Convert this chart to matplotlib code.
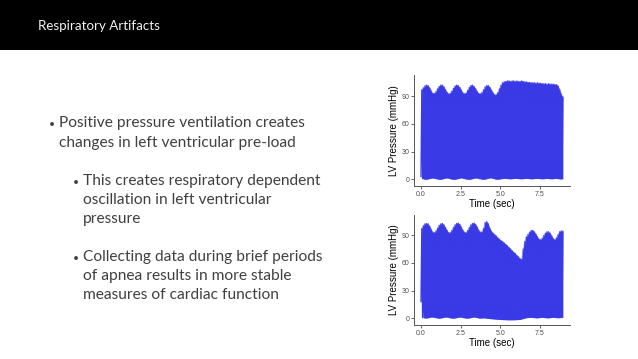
"""
Slide: respiratory artifacts in LV pressure traces.
"""
import matplotlib
matplotlib.use('Agg')
import matplotlib.pyplot as plt
import matplotlib.patches as mpatches
import numpy as np

# ── Data ──────────────────────────────────────────────────────────────────────
# beat times (sec) and per-beat systolic peak / diastolic floor (mmHg),
# read off the two traces
beat_t = [0.05, 0.15, 0.25, 0.35, 0.45, 0.55, 0.65, 0.75, 0.85, 0.95,
          1.05, 1.15, 1.25, 1.35, 1.45, 1.55, 1.65, 1.75, 1.85, 1.95,
          2.05, 2.15, 2.25, 2.35, 2.45, 2.55, 2.65, 2.75, 2.85, 2.95,
          3.05, 3.15, 3.25, 3.35, 3.45, 3.55, 3.65, 3.75, 3.85, 3.95,
          4.05, 4.15, 4.25, 4.35, 4.45, 4.55, 4.65, 4.75, 4.85, 4.95,
          5.05, 5.15, 5.25, 5.35, 5.45, 5.55, 5.65, 5.75, 5.85, 5.95,
          6.05, 6.15, 6.25, 6.35, 6.45, 6.55, 6.65, 6.75, 6.85, 6.95,
          7.05, 7.15, 7.25, 7.35, 7.45, 7.55, 7.65, 7.75, 7.85, 7.95,
          8.05, 8.15, 8.25, 8.35, 8.45, 8.55, 8.65, 8.75, 8.85, 8.95]

# ventilated trace (top)
peak_top = [97, 99, 101, 102, 101.5, 99, 95.5, 93, 93, 95,
            98, 100.5, 102, 102, 100, 97, 94, 92.5, 93, 95.5,
            98.5, 101, 102, 101.5, 99.5, 96.5, 93.5, 92.5, 93.5, 96.5,
            99.5, 101.5, 102, 100.5, 98, 95, 93, 92.5, 94, 97,
            100, 101.5, 101.5, 99.5, 96.5, 93.5, 91.5, 91.5, 94, 98,
            102, 104.5, 105.5, 106, 106.5, 106.5, 106, 106.5, 106.5, 106,
            106.5, 106, 106, 106.5, 106, 105.5, 105.5, 105, 105, 104.5,
            104.5, 104.5, 104, 104.5, 104, 104, 103.5, 103.5, 103.5, 103,
            103.5, 103, 103, 103, 102.5, 102.5, 101, 97, 92, 89]
dia_top = [3, 0.5, 0.2, 0.0, 0.3, 0.8, 1.2, 1.5, 1.2, 0.8,
           0.4, 0.1, 0.0, 0.3, 0.8, 1.3, 1.5, 1.2, 0.7, 0.3,
           0.1, 0.0, 0.3, 0.8, 1.2, 1.5, 1.3, 0.8, 0.4, 0.1,
           0.0, 0.2, 0.6, 1.1, 1.4, 1.4, 1.0, 0.5, 0.2, 0.0,
           0.2, 0.6, 1.1, 1.5, 1.5, 1.1, 0.6, 0.2, 0.0, 0.2,
           0.5, 0.8, 1.0, 1.0, 0.8, 0.6, 0.5, 0.6, 0.8, 1.0,
           1.0, 0.8, 0.6, 0.5, 0.6, 0.8, 1.0, 0.9, 0.7, 0.5,
           0.5, 0.7, 0.9, 1.0, 0.8, 0.6, 0.5, 0.6, 0.8, 0.9,
           0.8, 0.6, 0.5, 0.6, 0.8, 0.9, 0.7, 0.5, 0.4, 0.5]

# apnea trace (bottom)
peak_bot = [97, 100, 102, 102.5, 102, 99.5, 96, 93, 92.5, 94.5,
            97.5, 100.5, 102, 102.5, 101, 98, 95, 92.5, 92.5, 95,
            98, 101, 102.5, 103, 101.5, 98.5, 95, 93, 92.5, 95,
            98, 101, 102.5, 103, 101.5, 98.5, 95, 93, 93.5, 97,
            103.5, 104.5, 102, 97, 94, 92, 90.5, 89, 87, 85.5,
            84, 83, 81.5, 80, 78.5, 76.5, 75, 73, 71.5, 70,
            68, 66.5, 64.5, 63.5, 75, 83, 88, 90.5, 93, 95,
            95, 93.5, 91, 88, 85.5, 85, 86.5, 89.5, 92, 93.5,
            93.5, 92, 89, 86, 85, 87, 90.5, 93.5, 94.5, 94]
dia_bot = [18, 0.8, 0.5, 0.3, 0.6, 1.0, 1.4, 1.5, 1.2, 0.8,
           0.4, 0.2, 0.3, 0.7, 1.1, 1.5, 1.4, 1.0, 0.6, 0.3,
           0.2, 0.3, 0.7, 1.1, 1.5, 1.4, 1.0, 0.6, 0.3, 0.2,
           0.4, 0.8, 1.2, 1.5, 1.3, 0.9, 0.5, 0.3, 0.3, 0.6,
           0.5, 0.2, 0.0, -0.2, -0.4, -0.5, -0.7, -0.8, -1.0, -1.1,
           -1.2, -1.3, -1.4, -1.5, -1.5, -1.6, -1.6, -1.5, -1.6, -1.5,
           -1.4, -1.3, -1.2, -0.8, -0.2, 0.3, 0.6, 0.9, 1.0, 1.1,
           1.0, 0.8, 0.6, 0.5, 0.7, 1.0, 1.2, 1.0, 0.8, 0.6,
           0.5, 0.7, 1.0, 1.2, 1.0, 0.8, 0.6, 0.7, 1.0, 1.2]

x_ticks = [0.0, 2.5, 5.0, 7.5]
y_ticks = [0, 30, 60, 90]

title = 'Respiratory Artifacts'
bullets = [
    # (indent level, lines)
    (0, ['Positive pressure ventilation creates',
         'changes in left ventricular pre-load']),
    (1, ['This creates respiratory dependent',
         'oscillation in left ventricular',
         'pressure']),
    (1, ['Collecting data during brief periods',
         'of apnea results in more stable',
         'measures of cardiac function']),
]

# ── Figure ────────────────────────────────────────────────────────────────────
W, H = 638, 359
fig = plt.figure(figsize=(W / 100, H / 100), dpi=100)
fig.patch.set_facecolor('white')

slide_font = ['Lato', 'Open Sans', 'DejaVu Sans']
plot_font = ['Liberation Sans', 'DejaVu Sans']

# title bar
fig.add_artist(mpatches.Rectangle((0, 1 - 50 / H), 1, 50 / H,
                                  transform=fig.transFigure,
                                  facecolor='black', edgecolor='none'))
fig.text(38 / W, 1 - 29.5 / H, title, fontsize=9.6, color='#F2F2F2',
         family=slide_font, va='baseline', ha='left')

# bullet text (baselines in px from top)
baselines = [[126.7, 146.7], [185, 204, 222.7], [261, 280, 299]]
for (lvl, lines), bl in zip(bullets, baselines):
    bx, tx = (49, 59) if lvl == 0 else (73, 83)
    fig.text(bx / W, 1 - bl[0] / H, '•', fontsize=7.5, color='#404040',
             family=slide_font, va='baseline', ha='left')
    for line, y in zip(lines, bl):
        fig.text(tx / W, 1 - y / H, line, fontsize=11.2, color='#404040',
                 family=slide_font, va='baseline', ha='left')


# ── LV pressure panels ────────────────────────────────────────────────────────
def lv_panel(rect, peaks, dias, ylim):
    ax = fig.add_axes(rect)
    t = np.array(beat_t)
    # solid band between diastolic floor and systolic peak
    ax.fill_between(t, dias, peaks, color='#3636E3', lw=0, zorder=2)
    # beat-by-beat zig-zag on top for the striated look
    xs = np.empty(2 * len(t))
    ys = np.empty(2 * len(t))
    xs[0::2] = t - 0.05
    xs[1::2] = t
    ys[0::2] = dias
    ys[1::2] = peaks
    ax.plot(xs, ys, color='#3A3AE6', lw=0.9, zorder=3)
    ax.plot(t, peaks, color='#6565EA', lw=0.6, alpha=0.5, zorder=4)
    ax.set_xlim(-0.42, 9.4)
    ax.set_ylim(*ylim)
    ax.set_xticks(x_ticks)
    ax.set_xticklabels([f'{v:.1f}' for v in x_ticks])
    ax.set_yticks(y_ticks)
    for s in ('top', 'right'):
        ax.spines[s].set_visible(False)
    for s in ('left', 'bottom'):
        ax.spines[s].set_color('#555555')
        ax.spines[s].set_linewidth(0.7)
    ax.tick_params(labelsize=5, colors='#4D4D4D', length=2.3, width=0.6,
                   pad=1.2)
    for lab in ax.get_xticklabels() + ax.get_yticklabels():
        lab.set_family(plot_font)
    ax.set_xlabel('Time (sec)', fontsize=7, family=plot_font, labelpad=0.5)
    ax.set_ylabel('LV Pressure (mmHg)', fontsize=7, family=plot_font,
                  labelpad=1.5)
    ax.patch.set_alpha(0)
    return ax


lv_panel([414.3 / W, 1 - 186 / H, 155.7 / W, 111 / H],
         peak_top, dia_top, (-7.3, 113))
lv_panel([414.3 / W, 1 - 325 / H, 155.7 / W, 110 / H],
         peak_bot, dia_bot, (-7.2, 111.7))

fig.savefig('out.png', dpi=100, facecolor='white')
